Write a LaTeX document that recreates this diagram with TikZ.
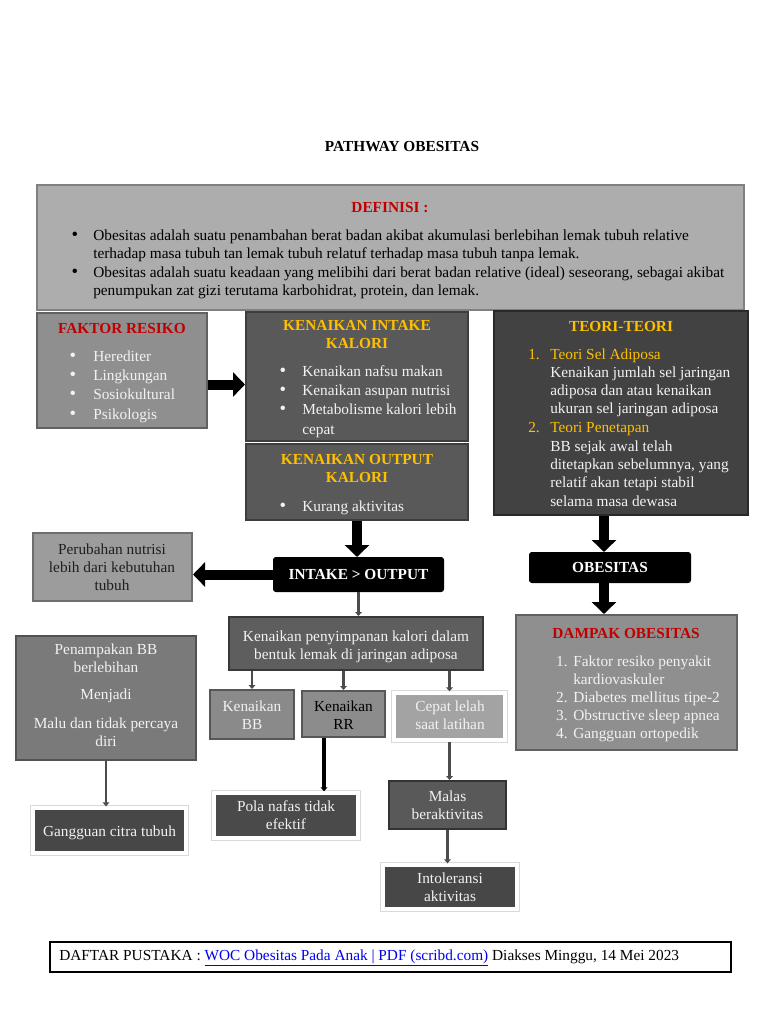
\documentclass[tikz,border=0pt]{standalone}
\usepackage{fontspec}
\setmainfont{Liberation Serif}
\usetikzlibrary{arrows.meta,fit}
\definecolor{cred}{HTML}{C00000}
\definecolor{cgold}{HTML}{FFC000}
\definecolor{ctxt}{HTML}{F2F2F2}
\definecolor{clink}{HTML}{0000EE}
\newcommand{\fsn}{\fontsize{11.5}{13.8}\selectfont}
\newcommand{\fsw}{\fontsize{11.5}{14.5}\selectfont}
\newcommand{\fsb}{\fontsize{14}{14.5}\selectfont}
\begin{document}
\begin{tikzpicture}[x=0.75pt,y=-0.75pt,
  box/.style={rectangle,inner sep=0pt,line width=1.5pt},
  glow/.style={rectangle,inner sep=0pt,draw=white,line width=2.5pt,
     preaction={draw=black!15,line width=4.5pt}},
  txt/.style={inner sep=0pt,font=\fsn},
  wtxt/.style={txt,text=ctxt},
  bul/.style={inner sep=0pt,font=\fsb},
  bigarrow/.style={line width=7.5pt,-{Triangle[length=9pt,width=18pt]}},
  thin/.style={draw=black!70,line width=2.2pt,-{Triangle[length=3pt,width=5pt]}},
  thick/.style={draw=black,line width=3pt,-{Triangle[length=3pt,width=5pt]}}]
\useasboundingbox[fill=white] (0,0) rectangle (768,1024);

% title
\node[txt,font=\fsn\bfseries,anchor=base] (title) at (402,151) {PATHWAY OBESITAS};

% boxes
\node[box,fill=black!32,draw=black!50,fit={(37,185)(744,310)}] (def) {};
\node[box,fill=black!44,draw=black!62,fit={(37,313)(207,428)}] (faktor) {};
\node[box,fill=black!65,draw=black!76,fit={(246,312)(468,441)}] (intake) {};
\node[box,fill=black!65,draw=black!76,fit={(246,444)(468,520)}] (output) {};
\node[box,fill=black!74,draw=black!84,fit={(494,311)(748,515)}] (teori) {};
\node[box,fill=black,draw=black,rounded corners=1.5pt,fit={(274,558)(443,591)}] (io) {};
\node[box,fill=black,draw=black,rounded corners=1.5pt,fit={(530,553)(690,582)}] (obes) {};
\node[box,fill=black!39,draw=black!57,fit={(33,533)(192,601)}] (perub) {};
\node[box,fill=black!63,draw=black!78,fit={(229,617)(483,670)}] (simpan) {};
\node[box,fill=black!46,draw=black!66,fit={(210,690)(294,739)}] (bb) {};
\node[box,fill=black!45,draw=black!66,fit={(302,691)(385,737)}] (rr) {};
\node[glow,fill=black!36,fit={(394,693)(505,740)}] (lelah) {};
\node[glow,fill=black!71,fit={(214,793)(358,838)}] (pola) {};
\node[box,fill=black!65,draw=black!80,fit={(389,781)(506,829)}] (malas) {};
\node[glow,fill=black!72,fit={(383,865)(517,909)}] (intol) {};
\node[box,fill=black!52,draw=black!68,fit={(16,636)(196,760)}] (penamp) {};
\node[glow,fill=black!72,fit={(33,808)(186,853)}] (gangg) {};
\node[box,fill=black!44,draw=black!62,fit={(516,615)(737,750)}] (dampak) {};
\node[box,fill=white,draw=black,line width=1.1pt,fit={(50,942)(731,972)}] (pustaka) {};

% DEFINISI
\node[txt,text=cred,font=\fsn\bfseries,anchor=base] (defh) at (390,212) {DEFINISI :};
\node[bul,anchor=base] (db1) at (75,240) {\textbullet};
\node[bul,anchor=base] (db2) at (75,277) {\textbullet};
\node[txt,anchor=base west,align=left] (d1) at (93,258.4)
  {Obesitas adalah suatu penambahan berat badan akibat akumulasi berlebihan lemak tubuh relative\\
   terhadap masa tubuh tan lemak tubuh relatuf terhadap masa tubuh tanpa lemak.};
\node[txt,anchor=base west,align=left] (d2) at (93,295.4)
  {Obesitas adalah suatu keadaan yang melibihi dari berat badan relative (ideal) seseorang, sebagai akibat\\
   penumpukan zat gizi terutama karbohidrat, protein, dan lemak.};

% FAKTOR RESIKO
\node[txt,text=cred,font=\fsn\bfseries,anchor=base] (fh) at (122,333) {FAKTOR RESIKO};
\node[bul,text=ctxt,anchor=base,align=center] (fb) at (73,419) {\textbullet\\\textbullet\\\textbullet\\\textbullet};
\node[wtxt,font=\fsw,anchor=base west,align=left] (fl) at (93,419) {Herediter\\Lingkungan\\Sosiokultural\\Psikologis};

% KENAIKAN INTAKE
\node[txt,text=cgold,font=\fsn\bfseries,anchor=base,align=center] (ih) at (357,348.4) {KENAIKAN INTAKE\\KALORI};
\node[bul,text=ctxt,anchor=base,align=center] (ib) at (283,414.7) {\textbullet\\\textbullet\\\textbullet};
\node[wtxt,font=\fsw,anchor=base west,align=left] (il) at (302,434)
  {Kenaikan nafsu makan\\Kenaikan asupan nutrisi\\Metabolisme kalori lebih\\cepat};

% KENAIKAN OUTPUT
\node[txt,text=cgold,font=\fsn\bfseries,anchor=base,align=center] (oh) at (357,482.4) {KENAIKAN OUTPUT\\KALORI};
\node[bul,text=ctxt,anchor=base] (ob) at (283,511) {\textbullet};
\node[wtxt,anchor=base west] (ol) at (302,511) {Kurang aktivitas};

% TEORI
\node[txt,text=cgold,font=\fsn\bfseries,anchor=base] (th) at (621,331) {TEORI-TEORI};
\node[txt,text=cgold,anchor=base west] (tn1) at (528,359) {1.};
\node[txt,text=cgold,anchor=base west] (tt1) at (550,359) {Teori Sel Adiposa};
\node[wtxt,anchor=base west,align=left] (tl1) at (550,413.8)
  {Kenaikan jumlah sel jaringan\\adiposa dan atau kenaikan\\ukuran sel jaringan adiposa};
\node[txt,text=cgold,anchor=base west] (tn2) at (528,432) {2.};
\node[txt,text=cgold,anchor=base west] (tt2) at (550,432) {Teori Penetapan};
\node[wtxt,anchor=base west,align=left] (tl2) at (550,506.2)
  {BB sejak awal telah\\ditetapkan sebelumnya, yang\\relatif akan tetapi stabil\\selama masa dewasa};

% middle
\node[txt,text=white,font=\fsn\bfseries,anchor=base] (iot) at (358.5,579) {INTAKE > OUTPUT};
\node[txt,text=white,font=\fsn\bfseries,anchor=base] (obt) at (610,572) {OBESITAS};
\node[txt,text=black!88,anchor=base,align=center] (pt) at (112,590.8) {Perubahan nutrisi\\lebih dari kebutuhan\\tubuh};
\node[wtxt,anchor=base,align=center] (st) at (356,659.4) {Kenaikan penyimpanan kalori dalam\\bentuk lemak di jaringan adiposa};
\node[wtxt,anchor=base,align=center] (bbt) at (252,729.4) {Kenaikan\\BB};
\node[txt,text=black,anchor=base,align=center] (rrt) at (343.5,729.4) {Kenaikan\\RR};
\node[wtxt,anchor=base,align=center] (lt) at (450,729.4) {Cepat lelah\\saat latihan};
\node[wtxt,anchor=base,align=center] (polt) at (286,829.4) {Pola nafas tidak\\efektif};
\node[wtxt,anchor=base,align=center] (mt) at (447.5,819.4) {Malas\\beraktivitas};
\node[wtxt,anchor=base,align=center] (it) at (450,901.4) {Intoleransi\\aktivitas};
\node[wtxt,anchor=base,align=center] (pa1) at (106,672.4) {Penampakan BB\\berlebihan};
\node[wtxt,anchor=base] (pa2) at (106,699) {Menjadi};
\node[wtxt,anchor=base,align=center] (pa3) at (106,746.4) {Malu dan tidak percaya\\diri};
\node[wtxt,anchor=base] (gt) at (109.5,836) {Gangguan citra tubuh};

% DAMPAK
\node[txt,text=cred,font=\fsn\bfseries,anchor=base] (dh) at (626,638) {DAMPAK OBESITAS};
\node[wtxt,font=\fontsize{11.5}{13.5}\selectfont,anchor=base east,align=right] (dn) at (568,738) {1.\\\mbox{}\\2.\\3.\\4.};
\node[wtxt,font=\fontsize{11.5}{13.5}\selectfont,anchor=base west,align=left] (dl) at (573,738)
  {Faktor resiko penyakit\\kardiovaskuler\\Diabetes mellitus tipe-2\\Obstructive sleep apnea\\Gangguan ortopedik};

% DAFTAR PUSTAKA
\node[txt,anchor=base west] (pk) at (59,960)
  {DAFTAR PUSTAKA : \textcolor{clink}{\underline{WOC Obesitas Pada Anak | PDF (scribd.com)}} Diakses Minggu, 14 Mei 2023};

% connectors
\coordinate (fa) at ([yshift=-10.5pt]faktor.east);
\draw[bigarrow] (fa) -- (fa -| intake.west);
\draw[bigarrow] (output.south) -- (output.south |- io.north);
\draw[bigarrow] (io.west) -- (io.west -| perub.east);
\coordinate (ta) at ([xshift=-4.5pt]obes.north);
\draw[bigarrow] (ta |- teori.south) -- (ta);
\coordinate (tb) at ([xshift=-4.5pt]obes.south);
\draw[bigarrow] (tb) -- (tb |- dampak.north);
\draw[thin] (io.south) -- (io.south |- simpan.north);
\draw[thin] (simpan.south -| bb) -- (bb.north);
\draw[thin] (simpan.south -| rr) -- (rr.north);
\draw[thin] (simpan.south -| lelah) -- (lelah.north);
\coordinate (rp) at ([xshift=-14.6pt]rr.south);
\draw[thick] (rp) -- (rp |- pola.north);
\draw[thin] (lelah.south) -- (lelah.south |- malas.north);
\draw[thin] (malas.south) -- (malas.south |- intol.north);
\draw[thin] (penamp.south) -- (penamp.south |- gangg.north);
\end{tikzpicture}
\end{document}
